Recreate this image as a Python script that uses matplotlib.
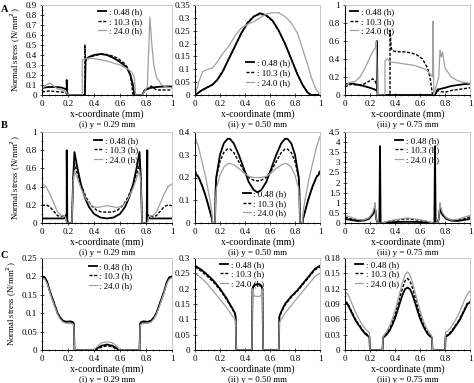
# Normal stress along x at three heights, three stages (A, B, C)
import matplotlib.pyplot as plt
from matplotlib.ticker import MultipleLocator, FuncFormatter

plt.rcParams['font.family'] = ['Liberation Serif', 'DejaVu Serif']
plt.rcParams['font.size'] = 6.5

labels = [': 0.48 (h)', ': 10.3 (h)', ': 24.0 (h)']
subtitles = ['(i) y = 0.29 mm', '(ii) y = 0.50 mm', '(iii) y = 0.75 mm']
row_letters = ['A', 'B', 'C']

# ---------------- row A ----------------
a1_x_048 = [0, 0.05, 0.1, 0.15, 0.18, 0.19, 0.19, 0.195, 0.33, 0.335, 0.34, 0.36, 0.4, 0.45, 0.5, 0.55,
            0.6, 0.65, 0.68, 0.7, 0.71, 0.77, 0.79, 0.83, 0.88, 0.94, 1.0]
a1_y_048 = [0.07, 0.08, 0.08, 0.075, 0.06, 0.05, 0.15, 0.0, 0.0, 0.34, 0.36, 0.38, 0.40, 0.41, 0.40, 0.37,
            0.33, 0.28, 0.2, 0.1, 0.0, 0.0, 0.05, 0.07, 0.08, 0.085, 0.085]
a1_x_103 = [0, 0.05, 0.1, 0.15, 0.19, 0.195, 0.33, 0.33, 0.335, 0.35, 0.37, 0.42, 0.47, 0.52, 0.58, 0.63,
            0.66, 0.68, 0.69, 0.7, 0.77, 0.79, 0.84, 0.88, 0.94, 1.0]
a1_y_103 = [0.03, 0.04, 0.035, 0.03, 0.02, 0.0, 0.0, 0.5, 0.34, 0.36, 0.38, 0.40, 0.41, 0.40, 0.37, 0.32,
            0.27, 0.2, 0.1, 0.0, 0.0, 0.04, 0.09, 0.05, 0.05, 0.05]
a1_x_240 = [0, 0.03, 0.06, 0.09, 0.12, 0.16, 0.19, 0.195, 0.31, 0.31, 0.33, 0.36, 0.42, 0.5, 0.6, 0.66,
            0.69, 0.71, 0.72, 0.77, 0.81, 0.83, 0.845, 0.86, 0.88, 0.92, 0.96, 1.0]
a1_y_240 = [0.06, 0.1, 0.12, 0.09, 0.06, 0.05, 0.03, 0.0, 0.0, 0.35, 0.36, 0.37, 0.36, 0.34, 0.30, 0.26,
            0.23, 0.18, 0.0, 0.0, 0.08, 0.78, 0.5, 0.3, 0.18, 0.1, 0.08, 0.07]

a2_x = [0, 0.03, 0.06, 0.1, 0.14, 0.18, 0.22, 0.27, 0.32, 0.37, 0.42, 0.47, 0.52, 0.57, 0.62, 0.67,
        0.72, 0.77, 0.82, 0.86, 0.9, 0.93, 0.96, 1.0]
a2_y_048 = [0, 0.01, 0.02, 0.03, 0.04, 0.06, 0.09, 0.14, 0.19, 0.24, 0.28, 0.305, 0.318, 0.31, 0.29, 0.25,
            0.2, 0.14, 0.08, 0.04, 0.01, 0.0, 0.0, 0.0]
a2_y_103 = [0, 0.01, 0.02, 0.03, 0.04, 0.06, 0.09, 0.14, 0.19, 0.24, 0.28, 0.305, 0.315, 0.308, 0.288, 0.25,
            0.2, 0.14, 0.08, 0.04, 0.01, 0.0, 0.0, 0.0]
a2_y_240 = [0, 0.05, 0.09, 0.1, 0.105, 0.13, 0.16, 0.19, 0.23, 0.26, 0.275, 0.285, 0.3, 0.315, 0.32, 0.32,
            0.305, 0.28, 0.24, 0.18, 0.12, 0.07, 0.03, 0.0]

a3_x_048 = [0, 0.05, 0.1, 0.15, 0.2, 0.24, 0.255, 0.255, 0.26, 0.72, 0.74, 0.8, 0.85, 0.9, 0.95, 1.0]
a3_y_048 = [0.12, 0.13, 0.115, 0.1, 0.08, 0.06, 0.05, 0.6, 0.0, 0.0, 0.06, 0.08, 0.1, 0.11, 0.12, 0.125]
a3_x_103 = [0, 0.05, 0.1, 0.15, 0.19, 0.22, 0.24, 0.255, 0.26, 0.36, 0.36, 0.37, 0.38, 0.42, 0.47, 0.52,
            0.57, 0.62, 0.66, 0.68, 0.69, 0.70, 0.72, 0.74, 0.76, 0.8, 0.85, 0.9, 0.95, 1.0]
a3_y_103 = [0.09, 0.12, 0.11, 0.12, 0.15, 0.18, 0.16, 0.1, 0.0, 0.0, 0.72, 0.52, 0.49, 0.48, 0.48, 0.47,
            0.45, 0.4, 0.3, 0.2, 0.1, 0.0, 0.0, 0.05, 0.04, 0.03, 0.05, 0.06, 0.07, 0.08]
a3_x_240 = [0, 0.04, 0.08, 0.12, 0.16, 0.2, 0.23, 0.245, 0.25, 0.255, 0.26, 0.32, 0.32, 0.34, 0.36, 0.4,
            0.45, 0.5, 0.55, 0.6, 0.65, 0.69, 0.70, 0.705, 0.71, 0.73, 0.75, 0.76, 0.77, 0.78, 0.8, 0.85,
            0.9, 0.95, 1.0]
a3_y_240 = [0.1, 0.14, 0.15, 0.2, 0.3, 0.42, 0.5, 0.53, 0.6, 0.3, 0.0, 0.0, 0.38, 0.4, 0.37, 0.36,
            0.35, 0.34, 0.33, 0.31, 0.28, 0.22, 0.2, 0.82, 0.0, 0.1, 0.2, 0.5, 0.42, 0.48, 0.3, 0.2,
            0.16, 0.14, 0.13]

# ---------------- row B ----------------
b1_x_048 = [0, 0.1, 0.17, 0.18, 0.19, 0.19, 0.195, 0.23, 0.24, 0.25, 0.27, 0.3, 0.33, 0.36, 0.4, 0.45,
            0.5, 0.55, 0.6, 0.64, 0.67, 0.7, 0.73, 0.75, 0.76, 0.77, 0.805, 0.81, 0.81, 0.82, 0.83, 0.9, 1.0]
b1_y_048 = [0.05, 0.05, 0.05, 0.07, 0.06, 0.8, 0.0, 0.0, 0.5, 0.78, 0.62, 0.42, 0.28, 0.18, 0.1, 0.06,
            0.05, 0.06, 0.1, 0.18, 0.28, 0.42, 0.62, 0.78, 0.5, 0.0, 0.0, 0.8, 0.06, 0.07, 0.05, 0.05, 0.05]
b1_x = [0, 0.03, 0.06, 0.09, 0.12, 0.15, 0.18, 0.19, 0.23, 0.24, 0.25, 0.27, 0.3, 0.34, 0.38, 0.42,
        0.46, 0.5, 0.54, 0.58, 0.62, 0.66, 0.7, 0.73, 0.75, 0.76, 0.77, 0.81, 0.82, 0.85, 0.88, 0.91,
        0.94, 0.97, 1.0]
b1_y_103 = [0.19, 0.2, 0.18, 0.13, 0.08, 0.07, 0.09, 0.0, 0.0, 0.5, 0.65, 0.55, 0.42, 0.28, 0.19, 0.14,
            0.12, 0.12, 0.12, 0.14, 0.19, 0.28, 0.42, 0.55, 0.65, 0.5, 0.0, 0.0, 0.09, 0.07, 0.08, 0.13,
            0.18, 0.2, 0.19]
b1_y_240 = [0.43, 0.4, 0.32, 0.22, 0.12, 0.08, 0.07, 0.0, 0.0, 0.45, 0.58, 0.5, 0.38, 0.26, 0.19, 0.17,
            0.18, 0.19, 0.18, 0.17, 0.19, 0.26, 0.38, 0.5, 0.58, 0.45, 0.0, 0.0, 0.07, 0.08, 0.12, 0.22,
            0.32, 0.4, 0.43]

b2_x = [0, 0.03, 0.06, 0.09, 0.12, 0.135, 0.14, 0.16, 0.165, 0.17, 0.2, 0.23, 0.26, 0.28, 0.31, 0.35,
        0.39, 0.43, 0.47, 0.5, 0.53, 0.57, 0.61, 0.65, 0.69, 0.72, 0.74, 0.77, 0.8, 0.83, 0.835, 0.84,
        0.86, 0.865, 0.88, 0.91, 0.94, 0.97, 1.0]
b2_y_048 = [0.22, 0.2, 0.16, 0.11, 0.05, 0.02, 0.0, 0.0, 0.14, 0.2, 0.3, 0.35, 0.37, 0.37, 0.35, 0.3,
            0.24, 0.18, 0.145, 0.135, 0.145, 0.18, 0.24, 0.3, 0.35, 0.37, 0.37, 0.35, 0.3, 0.2, 0.14, 0.0,
            0.0, 0.02, 0.05, 0.11, 0.16, 0.2, 0.22]
b2_y_103 = [0.23, 0.2, 0.16, 0.11, 0.05, 0.02, 0.0, 0.0, 0.15, 0.2, 0.27, 0.31, 0.325, 0.325, 0.31, 0.27,
            0.23, 0.2, 0.188, 0.185, 0.188, 0.2, 0.23, 0.27, 0.31, 0.325, 0.325, 0.31, 0.27, 0.2, 0.15, 0.0,
            0.0, 0.02, 0.05, 0.11, 0.16, 0.2, 0.23]
b2_y_240 = [0.38, 0.33, 0.26, 0.19, 0.1, 0.05, 0.0, 0.0, 0.1, 0.15, 0.21, 0.245, 0.26, 0.262, 0.255, 0.24,
            0.22, 0.205, 0.2, 0.2, 0.2, 0.205, 0.22, 0.24, 0.255, 0.262, 0.26, 0.245, 0.21, 0.15, 0.1, 0.0,
            0.0, 0.05, 0.1, 0.19, 0.26, 0.33, 0.38]

b3_x_048 = [0, 0.05, 0.1, 0.15, 0.19, 0.22, 0.235, 0.24, 0.245, 0.25, 0.26, 0.275, 0.28, 0.285, 0.29, 0.35,
            0.42, 0.5, 0.58, 0.65, 0.71, 0.715, 0.72, 0.725, 0.74, 0.75, 0.755, 0.76, 0.765, 0.78, 0.81,
            0.85, 0.9, 0.95, 1.0]
b3_y_048 = [0.2, 0.15, 0.1, 0.12, 0.2, 0.4, 0.6, 0.75, 0.5, 0.2, 0.0, 0.0, 3.8, 0.0, 0.0, 0.03,
            0.05, 0.06, 0.05, 0.03, 0.0, 0.0, 3.8, 0.0, 0.0, 0.2, 0.5, 0.75, 0.6, 0.4, 0.2,
            0.12, 0.1, 0.15, 0.2]
b3_x = [0, 0.05, 0.1, 0.15, 0.19, 0.22, 0.235, 0.24, 0.245, 0.25, 0.26, 0.3, 0.35, 0.42, 0.5, 0.58,
        0.65, 0.7, 0.74, 0.75, 0.755, 0.76, 0.765, 0.78, 0.81, 0.85, 0.9, 0.95, 1.0]
b3_y_103 = [0.3, 0.2, 0.13, 0.15, 0.25, 0.45, 0.7, 0.85, 0.5, 0.2, 0.0, 0.0, 0.08, 0.15, 0.2, 0.15,
            0.08, 0.0, 0.0, 0.2, 0.5, 0.85, 0.7, 0.45, 0.25, 0.15, 0.13, 0.2, 0.3]
b3_y_240 = [0.38, 0.28, 0.18, 0.15, 0.25, 0.5, 0.8, 1.0, 0.6, 0.2, 0.0, 0.0, 0.1, 0.18, 0.25, 0.18,
            0.1, 0.0, 0.0, 0.2, 0.6, 1.0, 0.8, 0.5, 0.25, 0.15, 0.18, 0.28, 0.38]

# ---------------- row C ----------------
c1_x = [0, 0.02, 0.04, 0.06, 0.08, 0.1, 0.12, 0.14, 0.16, 0.18, 0.2, 0.22, 0.24, 0.245, 0.25,
        0.4, 0.42, 0.44, 0.46, 0.48, 0.5, 0.52, 0.54, 0.56, 0.58, 0.6,
        0.75, 0.755, 0.76, 0.78, 0.8, 0.82, 0.84, 0.86, 0.88, 0.9, 0.92, 0.94, 0.96, 0.98, 1.0]
c1_y_048 = [0.2, 0.198, 0.185, 0.16, 0.14, 0.12, 0.10, 0.088, 0.08, 0.077, 0.077, 0.078, 0.075, 0.07, 0.0,
            0.0, 0.003, 0.008, 0.012, 0.013, 0.015, 0.013, 0.012, 0.008, 0.003, 0.0,
            0.0, 0.07, 0.075, 0.078, 0.077, 0.077, 0.08, 0.088, 0.10, 0.12, 0.14, 0.16, 0.185, 0.198, 0.2]
c1_y_103 = [0.2, 0.197, 0.184, 0.16, 0.14, 0.12, 0.10, 0.088, 0.08, 0.077, 0.076, 0.077, 0.074, 0.07, 0.0,
            0.0, 0.002, 0.005, 0.008, 0.01, 0.011, 0.01, 0.008, 0.005, 0.002, 0.0,
            0.0, 0.07, 0.074, 0.077, 0.076, 0.077, 0.08, 0.088, 0.10, 0.12, 0.14, 0.16, 0.184, 0.197, 0.2]
c1_y_240 = [0.196, 0.193, 0.18, 0.157, 0.136, 0.116, 0.097, 0.084, 0.076, 0.073, 0.072, 0.072, 0.07, 0.066, 0.0,
            0.0, 0.008, 0.015, 0.02, 0.021, 0.022, 0.021, 0.02, 0.015, 0.008, 0.0,
            0.0, 0.066, 0.07, 0.072, 0.072, 0.073, 0.076, 0.084, 0.097, 0.116, 0.136, 0.157, 0.18, 0.193, 0.196]

c2_x = [0, 0.05, 0.1, 0.15, 0.2, 0.25, 0.3, 0.32, 0.325, 0.33, 0.455, 0.46, 0.47, 0.48, 0.5, 0.52,
        0.53, 0.54, 0.545, 0.67, 0.675, 0.69, 0.72, 0.77, 0.82, 0.87, 0.92, 0.96, 1.0]
c2_y_048 = [0.275, 0.262, 0.245, 0.225, 0.2, 0.17, 0.135, 0.12, 0.11, 0.0, 0.0, 0.2, 0.21, 0.213, 0.215, 0.213,
            0.21, 0.2, 0.0, 0.0, 0.11, 0.125, 0.15, 0.175, 0.195, 0.22, 0.245, 0.265, 0.275]
c2_y_103 = [0.27, 0.257, 0.24, 0.22, 0.196, 0.166, 0.132, 0.117, 0.107, 0.0, 0.0, 0.2, 0.21, 0.212, 0.213, 0.212,
            0.21, 0.2, 0.0, 0.0, 0.107, 0.122, 0.147, 0.172, 0.192, 0.217, 0.242, 0.262, 0.27]
c2_y_240 = [0.25, 0.235, 0.215, 0.19, 0.165, 0.14, 0.11, 0.1, 0.09, 0.0, 0.0, 0.2, 0.18, 0.175, 0.175, 0.175,
            0.18, 0.2, 0.0, 0.0, 0.09, 0.1, 0.12, 0.145, 0.17, 0.195, 0.22, 0.24, 0.25]

c3_x = [0, 0.02, 0.04, 0.06, 0.08, 0.1, 0.12, 0.14, 0.16, 0.18, 0.195, 0.2,
        0.3, 0.305, 0.32, 0.34, 0.36, 0.38, 0.4, 0.42, 0.44, 0.46, 0.48, 0.5, 0.52, 0.54, 0.56, 0.58,
        0.6, 0.62, 0.64, 0.66, 0.68, 0.695, 0.7,
        0.8, 0.805, 0.82, 0.84, 0.86, 0.88, 0.9, 0.92, 0.94, 0.96, 0.98, 1.0]
c3_y_048 = [0.093, 0.09, 0.08, 0.07, 0.06, 0.052, 0.045, 0.038, 0.032, 0.028, 0.026, 0.0,
            0.0, 0.024, 0.027, 0.032, 0.04, 0.05, 0.062, 0.077, 0.093, 0.108, 0.119, 0.122, 0.119, 0.108, 0.093, 0.077,
            0.062, 0.05, 0.04, 0.032, 0.027, 0.024, 0.0,
            0.0, 0.026, 0.028, 0.032, 0.038, 0.045, 0.052, 0.06, 0.07, 0.08, 0.09, 0.093]
c3_y_103 = [0.095, 0.092, 0.082, 0.072, 0.062, 0.054, 0.047, 0.04, 0.034, 0.03, 0.028, 0.0,
            0.0, 0.025, 0.029, 0.035, 0.044, 0.055, 0.069, 0.086, 0.104, 0.121, 0.135, 0.14, 0.135, 0.121, 0.104, 0.086,
            0.069, 0.055, 0.044, 0.035, 0.029, 0.025, 0.0,
            0.0, 0.028, 0.03, 0.034, 0.04, 0.047, 0.054, 0.062, 0.072, 0.082, 0.092, 0.095]
c3_y_240 = [0.115, 0.11, 0.1, 0.088, 0.076, 0.066, 0.057, 0.049, 0.042, 0.037, 0.035, 0.0,
            0.0, 0.027, 0.032, 0.039, 0.049, 0.062, 0.077, 0.095, 0.114, 0.132, 0.147, 0.153, 0.147, 0.132, 0.114, 0.095,
            0.077, 0.062, 0.049, 0.039, 0.032, 0.027, 0.0,
            0.0, 0.035, 0.037, 0.042, 0.049, 0.057, 0.066, 0.076, 0.088, 0.1, 0.11, 0.115]

# y axis: (max, major step) per panel
ylims = [[(0.9, 0.1), (0.35, 0.05), (1.0, 0.2)],
         [(1.0, 0.2), (0.4, 0.1), (4.5, 0.5)],
         [(0.25, 0.05), (0.3, 0.05), (0.18, 0.03)]]

series = [
    [[(a1_x_048, a1_y_048), (a1_x_103, a1_y_103), (a1_x_240, a1_y_240)],
     [(a2_x, a2_y_048), (a2_x, a2_y_103), (a2_x, a2_y_240)],
     [(a3_x_048, a3_y_048), (a3_x_103, a3_y_103), (a3_x_240, a3_y_240)]],
    [[(b1_x_048, b1_y_048), (b1_x, b1_y_103), (b1_x, b1_y_240)],
     [(b2_x, b2_y_048), (b2_x, b2_y_103), (b2_x, b2_y_240)],
     [(b3_x_048, b3_y_048), (b3_x, b3_y_103), (b3_x, b3_y_240)]],
    [[(c1_x, c1_y_048), (c1_x, c1_y_103), (c1_x, c1_y_240)],
     [(c2_x, c2_y_048), (c2_x, c2_y_103), (c2_x, c2_y_240)],
     [(c3_x, c3_y_048), (c3_x, c3_y_103), (c3_x, c3_y_240)]],
]

# legend anchor (loc, bbox) per panel
legend_pos = [[('upper left', (0.38, 1.04)), ('lower left', (0.36, 0.02)), ('upper left', (-0.01, 1.04))],
              [('upper left', (0.35, 1.02)), ('lower left', (0.33, -0.01)), ('upper left', (0.35, 1.02))],
              [('upper left', (0.31, 1.02)), ('upper left', (0.15, 1.04)), ('upper left', (0.03, 1.04))]]

styles = [dict(color='black', lw=1.3, ls='-'),
          dict(color='black', lw=1.0, ls=(0, (2.2, 1.2))),
          dict(color='#a0a0a0', lw=0.9, ls='-')]

fig = plt.figure(figsize=(4.74, 3.83), dpi=100)

col_left = [42 / 474, 195 / 474, 345 / 474]
col_w = [130 / 474, 125 / 474, 125 / 474]
row_bottom = [1 - 95 / 383, 1 - 223 / 383, 1 - 350 / 383]
row_h = [90 / 383, 91 / 383, 92 / 383]
letter_y = [1 - 9 / 383, 1 - 126 / 383, 1 - 255 / 383]

fmt = FuncFormatter(lambda v, p: '{:g}'.format(round(v, 3)))

for r in range(3):
    for c in range(3):
        ax = fig.add_axes([col_left[c], row_bottom[r], col_w[c], row_h[r]])
        for (xs, ys), st, lab in zip(series[r][c], styles, labels):
            ax.plot(xs, ys, label=lab, **st)
        ymax, ystep = ylims[r][c]
        ax.set_xlim(0, 1)
        ax.set_ylim(0, ymax)
        ax.xaxis.set_major_locator(MultipleLocator(0.2))
        ax.xaxis.set_minor_locator(MultipleLocator(0.05))
        ax.yaxis.set_major_locator(MultipleLocator(ystep))
        ax.yaxis.set_minor_locator(MultipleLocator(ystep / 2))
        ax.xaxis.set_major_formatter(fmt)
        ax.yaxis.set_major_formatter(fmt)
        ax.tick_params(which='major', direction='inout', length=3, width=0.5, pad=2, labelsize=6.5)
        ax.tick_params(which='minor', direction='inout', length=1.8, width=0.4)
        for s in ['left', 'bottom']:
            ax.spines[s].set_linewidth(0.7)
        for s in ['top', 'right']:
            ax.spines[s].set_color('#c8c8c8')
            ax.spines[s].set_linewidth(0.7)
        ax.set_xlabel('x-coordinate (mm)', fontsize=7, labelpad=1)
        ax.text(0.5, -0.33, subtitles[c], transform=ax.transAxes, ha='center', va='center', fontsize=6.5)
        if c == 0:
            ax.set_ylabel('Normal stress (N/mm$^2$)', fontsize=6.3, labelpad=2)
        loc, bb = legend_pos[r][c]
        ax.legend(loc=loc, bbox_to_anchor=bb, frameon=False, fontsize=6.5, handlelength=0.9,
                  handletextpad=0.3, labelspacing=0.15, borderpad=0.2)
    fig.text(0.002, letter_y[r], row_letters[r], fontsize=7.5, fontweight='bold', va='center')

fig.savefig('out.png', dpi=100)
